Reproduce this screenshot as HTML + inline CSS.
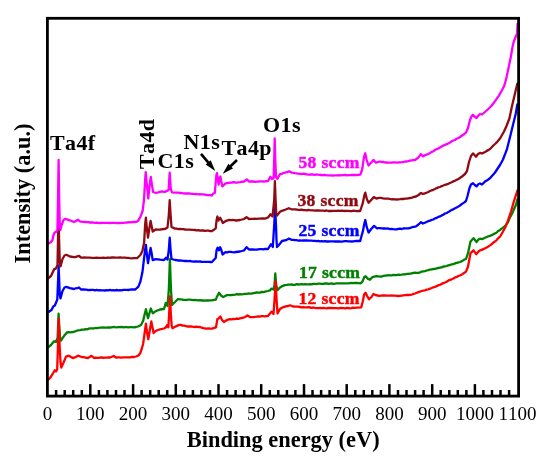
<!DOCTYPE html>
<html><head><meta charset="utf-8"><style>
html,body{margin:0;padding:0;background:#fff;width:550px;height:465px;overflow:hidden}
svg{display:block}
text{font-family:"Liberation Serif","Times New Roman",serif;font-kerning:none}
.tl{font-size:19px}
.pk{font-size:22px;font-weight:bold;letter-spacing:0.4px}
.lg{font-size:17.6px;font-weight:bold;letter-spacing:0.3px;stroke-width:0.45px}
.ax{font-size:22.4px;font-weight:bold}
</style></head><body>
<svg width="550" height="465" viewBox="0 0 550 465">
<rect width="550" height="465" fill="#fff"/>
<polyline points="48.5,347.0 51.0,345.0 54.0,341.3 56.0,342.0 57.6,338.0 58.1,325.0 58.6,313.7 59.2,325.0 60.2,339.0 61.0,340.5 62.4,338.4 64.3,335.6 67.0,332.5 68.6,332.2 70.2,332.3 71.8,332.1 73.4,332.0 75.7,331.2 78.0,330.3 80.0,330.1 82.0,329.6 84.0,329.6 85.6,329.1 87.2,329.3 88.8,328.7 90.4,328.4 92.0,328.3 93.6,328.5 95.2,328.0 96.8,328.1 98.4,327.8 100.0,327.7 101.7,327.7 103.3,327.4 105.0,327.6 106.7,327.7 108.3,327.4 110.0,327.5 111.7,327.4 113.3,327.0 115.0,327.2 116.7,327.3 118.3,327.2 120.0,327.1 121.7,326.9 123.3,327.3 125.0,327.1 126.7,327.2 128.3,327.3 130.0,327.1 132.0,327.2 134.0,327.3 136.0,327.0 138.0,326.5 141.0,325.0 143.1,321.0 144.5,315.0 145.9,309.2 146.8,313.0 148.0,318.2 149.5,313.0 150.8,308.5 151.8,311.0 152.9,313.3 155.7,311.2 157.8,310.3 160.0,309.5 164.0,309.0 165.8,302.9 167.5,306.0 168.8,290.0 169.9,259.2 171.0,290.0 172.0,304.8 175.0,302.0 178.0,299.0 179.8,299.4 181.5,299.4 183.2,299.8 185.0,299.8 186.7,300.0 188.3,299.6 190.0,299.7 191.7,299.8 193.3,300.2 195.0,300.0 196.7,300.1 198.3,300.3 200.0,300.2 201.7,300.5 203.3,300.5 205.0,300.7 206.6,300.5 208.2,300.5 209.8,300.4 211.4,300.4 213.0,300.1 216.0,299.5 216.8,297.0 219.0,292.8 221.0,295.5 223.3,297.1 227.0,295.1 228.6,295.1 230.2,295.1 231.9,295.0 233.5,294.9 235.1,294.6 236.8,294.2 238.4,294.5 240.0,294.2 241.7,294.4 243.3,294.2 245.0,293.9 246.7,293.9 248.3,293.5 250.0,293.6 251.7,293.6 253.3,293.2 255.0,292.8 256.7,292.5 258.3,292.7 260.0,292.6 261.7,291.9 263.3,292.1 265.0,291.7 268.0,291.0 270.0,290.3 271.5,288.6 273.5,289.5 274.5,285.0 275.3,273.5 276.2,285.0 277.5,290.1 280.0,287.5 282.0,286.2 285.0,285.1 286.7,284.9 288.3,284.6 290.0,284.7 291.7,284.5 293.3,284.8 295.0,284.8 296.7,284.2 298.3,284.5 300.0,284.4 301.7,284.1 303.3,284.4 305.0,284.2 306.7,284.4 308.3,284.4 310.0,284.1 311.7,284.4 313.3,283.9 315.0,283.8 316.7,284.0 318.3,283.6 320.0,283.7 321.7,283.8 323.3,283.8 325.0,283.5 326.7,283.4 328.3,283.9 330.0,283.6 331.7,283.5 333.3,283.8 335.0,283.7 336.7,283.4 338.3,283.4 340.0,283.4 341.7,283.4 343.3,283.3 345.0,283.3 346.7,283.3 348.3,283.4 350.0,283.1 351.7,283.0 353.3,283.2 355.0,283.0 356.8,283.0 358.7,283.2 360.5,283.4 362.3,281.9 364.2,277.3 365.6,276.3 367.6,278.6 370.0,279.8 372.4,277.1 376.3,276.1 380.2,276.6 381.8,276.5 383.4,275.9 385.0,275.6 386.7,275.5 388.3,275.1 390.0,275.3 391.7,275.3 393.3,274.9 395.0,275.1 396.7,275.1 398.3,274.6 400.0,274.8 401.7,274.7 403.3,274.4 405.0,274.3 406.7,273.9 408.3,273.9 410.0,273.6 411.7,273.5 413.3,272.9 415.0,272.7 416.7,272.8 418.3,272.8 420.0,272.3 421.7,271.7 423.3,271.4 425.0,271.1 426.7,270.5 428.3,270.1 430.0,269.7 431.7,269.3 433.3,269.0 435.0,268.8 436.7,268.3 438.3,268.0 440.0,267.7 441.7,267.4 443.3,266.5 445.0,266.4 446.7,266.0 448.3,265.3 450.0,265.0 451.7,264.3 453.3,264.2 455.0,263.4 456.7,262.8 458.3,262.5 460.0,262.0 462.0,261.1 464.0,259.8 466.0,259.0 468.0,253.2 470.5,241.6 473.5,238.2 475.0,240.0 476.5,242.0 478.5,239.5 480.0,238.7 482.0,239.2 485.0,237.7 486.7,237.0 488.3,236.3 490.0,235.8 491.7,235.2 493.3,234.2 495.0,233.4 496.7,232.5 498.3,230.9 500.0,230.0 501.7,228.6 503.3,227.5 505.0,226.1 508.0,222.2 510.0,217.4 513.0,211.6 516.0,204.8 517.5,199.0" fill="none" stroke="#008000" stroke-width="2.3" stroke-linejoin="round" stroke-linecap="round"/>
<polyline points="48.5,379.5 50.0,378.0 52.0,375.0 53.5,372.5 54.8,370.3 56.0,371.5 57.2,369.4 58.0,345.0 58.7,318.7 59.6,345.0 60.5,362.0 61.3,367.6 63.4,363.0 66.0,356.6 68.8,355.7 71.1,357.1 73.4,358.1 75.7,356.9 78.0,355.7 81.6,357.0 83.2,357.1 84.8,357.3 86.4,357.8 88.0,358.0 91.5,355.8 94.0,357.8 95.6,357.6 97.2,357.9 98.8,357.9 100.4,357.5 102.0,357.5 103.6,357.8 105.2,357.7 106.8,357.7 108.4,357.4 110.0,357.5 113.7,356.0 116.0,357.5 117.8,357.3 119.5,357.3 121.2,357.6 123.0,357.3 124.8,357.3 126.5,357.3 128.2,357.3 130.0,357.3 132.0,357.0 134.0,357.0 136.0,356.5 138.5,355.5 140.3,353.0 141.7,349.0 143.1,344.0 144.5,334.0 145.9,323.7 147.0,332.0 148.3,339.2 149.8,330.0 151.3,321.5 152.4,327.0 153.6,333.0 155.7,331.0 157.8,330.0 160.0,329.4 164.0,328.5 165.7,327.6 167.0,325.3 168.3,327.3 169.1,315.0 170.0,296.4 170.9,315.0 171.7,326.0 172.6,328.2 175.4,326.6 179.2,324.9 180.8,324.9 182.5,325.6 184.1,325.6 186.1,326.1 188.0,326.5 190.0,326.5 191.7,326.5 193.3,326.9 195.0,327.0 196.7,326.7 198.3,327.1 200.0,327.0 201.7,327.7 203.3,328.1 205.0,328.5 206.8,328.6 208.5,328.5 210.2,328.6 212.0,328.7 216.0,327.3 217.4,319.0 218.5,318.5 220.4,316.4 222.0,320.0 223.9,322.0 225.9,320.6 228.0,319.6 229.7,319.2 231.4,319.3 233.1,319.0 234.9,319.1 236.6,318.5 238.3,318.8 240.0,318.4 241.7,318.0 243.3,317.7 245.0,317.0 247.5,315.5 250.0,317.0 251.7,317.2 253.3,317.1 255.0,316.8 256.6,316.7 258.2,316.3 259.9,316.6 261.5,316.2 263.1,316.2 264.8,316.3 266.4,316.1 268.0,316.0 271.5,311.6 273.5,314.0 274.5,300.0 275.6,281.0 276.6,300.0 277.5,313.5 280.0,309.0 282.0,307.7 285.0,306.6 286.7,306.1 288.3,306.0 290.0,305.3 293.0,306.5 294.8,306.7 296.5,306.7 298.2,306.7 300.0,307.0 301.7,307.3 303.3,307.2 305.0,307.4 306.7,307.3 308.3,307.2 310.0,307.5 311.7,307.8 313.3,307.5 315.0,307.9 316.7,308.1 318.3,308.1 320.0,308.0 321.7,308.2 323.3,307.8 325.0,308.1 326.7,308.3 328.3,307.8 330.0,308.0 331.7,308.0 333.3,308.2 335.0,308.1 336.7,308.2 338.3,308.4 340.0,308.0 341.7,308.0 343.3,308.1 345.0,308.3 346.6,308.0 348.2,307.9 349.9,308.3 351.5,308.2 353.1,307.7 354.8,307.9 356.4,307.7 358.0,307.7 361.2,307.4 362.7,301.8 364.2,294.3 365.6,292.8 367.1,296.0 369.0,299.2 371.5,297.0 373.4,294.0 375.3,295.0 379.2,295.8 381.1,295.6 383.1,295.5 385.0,295.5 386.7,295.6 388.3,295.6 390.0,295.6 391.7,295.5 393.3,295.6 395.0,295.6 396.7,295.8 398.3,296.0 400.0,295.9 401.7,295.6 403.4,295.3 405.1,295.1 406.9,295.0 408.6,295.0 410.3,294.9 412.0,294.5 413.6,293.9 415.2,293.5 416.8,292.8 418.4,292.1 420.0,291.6 421.7,291.0 423.3,290.6 425.0,290.3 426.7,289.6 428.3,289.3 430.0,288.7 431.7,288.0 433.3,287.3 435.0,286.8 436.7,286.2 438.3,285.2 440.0,284.8 441.7,283.9 443.3,283.1 445.0,282.5 446.7,281.7 448.3,280.6 450.0,279.8 451.7,279.3 453.3,278.5 455.0,277.5 456.7,276.9 458.3,276.0 460.0,275.5 462.0,274.4 464.0,273.0 466.0,271.6 468.0,266.8 470.5,253.2 473.5,250.3 476.2,254.2 478.5,251.5 480.0,250.3 481.7,249.9 483.3,249.1 485.0,248.3 486.7,247.4 488.3,246.5 490.0,245.4 491.7,244.2 493.3,242.6 495.0,241.6 496.7,240.0 498.3,238.1 500.0,236.7 505.0,228.0 508.0,220.3 511.0,211.6 514.0,201.0 517.5,190.3" fill="none" stroke="#ff0000" stroke-width="2.3" stroke-linejoin="round" stroke-linecap="round"/>
<polyline points="48.5,312.0 51.5,310.0 53.3,306.4 54.8,305.5 56.0,302.7 57.3,299.5 58.1,280.0 58.6,265.7 59.1,278.0 59.8,295.0 60.5,298.4 62.5,291.0 64.5,287.5 66.3,286.8 70.0,288.2 74.0,289.0 75.7,288.3 77.3,288.2 79.0,287.5 81.0,289.5 82.8,289.3 84.6,289.5 86.4,289.6 88.2,290.1 90.0,290.0 91.7,289.9 93.3,289.8 95.0,290.3 96.7,289.9 98.3,290.4 100.0,290.2 101.7,290.3 103.3,290.4 105.0,290.5 106.7,290.2 108.3,290.4 110.0,289.9 111.7,290.3 113.3,290.2 115.0,290.3 116.7,290.0 118.3,290.3 120.0,290.2 121.7,290.4 123.3,289.8 125.0,289.9 126.7,289.9 128.3,290.0 130.0,289.7 131.8,289.5 133.5,289.4 135.3,289.5 138.4,286.6 140.4,281.5 142.4,272.3 144.1,258.0 145.1,250.0 145.9,244.9 146.8,254.0 148.0,263.2 149.4,255.0 150.6,247.9 151.6,253.0 152.7,260.1 155.7,259.1 157.8,259.3 160.0,259.7 164.0,260.0 166.0,257.7 167.5,259.5 168.8,250.0 169.7,237.6 170.6,250.0 171.5,259.0 175.0,260.0 176.7,260.2 178.3,260.5 180.0,260.4 181.7,260.6 183.3,260.8 185.0,261.0 186.7,261.0 188.3,261.1 190.0,261.0 191.7,261.3 193.3,261.7 195.0,261.5 196.7,261.5 198.4,261.7 200.1,261.5 201.8,261.8 203.5,261.9 205.2,261.9 206.9,261.9 208.6,261.9 210.3,262.0 212.0,262.0 213.8,260.0 215.7,258.0 216.6,250.0 217.6,247.6 218.9,250.3 219.6,248.0 220.2,247.3 221.3,250.0 222.6,254.5 225.4,252.2 227.2,252.4 228.9,251.9 230.7,251.9 232.5,252.2 234.2,252.3 236.0,252.0 240.0,251.5 244.0,250.5 246.5,247.1 249.0,249.5 251.0,249.5 253.0,249.5 255.0,249.6 256.6,249.6 258.2,249.3 259.9,249.2 261.5,249.1 263.1,249.3 264.8,249.0 266.4,248.9 268.0,249.0 271.0,244.2 272.8,247.0 274.2,225.0 275.1,207.7 276.0,225.0 276.5,240.0 277.0,247.1 278.7,245.2 280.3,243.3 282.0,241.0 286.0,240.2 289.0,238.6 291.5,239.8 293.2,239.8 294.9,240.2 296.6,240.2 298.3,240.6 300.0,240.5 301.7,240.6 303.3,240.5 305.0,240.5 306.7,240.4 308.3,240.7 310.0,240.7 311.7,240.7 313.3,240.8 315.0,240.9 316.7,241.2 318.3,240.9 320.0,241.4 321.7,241.1 323.3,241.3 325.0,241.2 326.7,241.5 328.3,241.5 330.0,241.4 331.7,241.4 333.3,241.4 335.0,241.5 336.7,241.5 338.3,241.3 340.0,241.5 341.7,241.6 343.3,241.3 345.0,241.1 346.7,241.1 348.3,241.4 350.0,241.3 351.7,241.5 353.3,241.4 355.0,241.2 356.7,241.0 358.5,240.9 360.2,241.0 361.5,236.0 362.8,231.6 364.3,223.8 365.3,220.0 366.9,227.7 368.6,232.5 371.2,229.0 374.1,225.9 377.0,228.3 378.6,228.2 380.2,228.1 381.8,228.4 383.4,228.5 385.0,228.3 386.7,228.7 388.3,228.5 390.0,229.1 391.7,228.9 393.3,229.2 395.0,229.4 396.7,229.4 398.3,228.9 400.0,228.7 401.7,229.0 403.3,228.5 405.0,228.4 406.7,228.4 408.3,228.3 410.0,228.0 412.0,227.2 414.0,226.8 416.0,226.4 418.5,224.5 421.0,222.2 423.0,223.5 424.8,222.7 426.5,222.0 428.2,221.2 430.0,220.6 431.7,219.9 433.3,219.5 435.0,218.4 436.7,217.8 438.3,216.9 440.0,216.4 441.7,215.4 443.3,214.7 445.0,213.5 446.7,213.0 448.3,212.1 450.0,211.0 451.7,209.9 453.3,209.4 455.0,208.2 456.7,207.5 458.3,206.6 460.0,205.5 462.0,203.9 464.0,202.6 466.0,201.0 467.5,196.0 469.5,188.0 471.0,184.5 473.0,183.2 474.8,185.0 476.5,186.4 478.5,184.0 480.0,183.5 482.0,184.5 485.0,181.6 486.7,180.6 488.3,179.5 490.0,178.2 491.7,176.2 493.3,174.5 495.0,172.5 500.0,165.0 503.0,159.5 506.8,149.7 510.1,136.8 513.2,124.0 515.8,113.5 517.3,104.5" fill="none" stroke="#0000ff" stroke-width="2.3" stroke-linejoin="round" stroke-linecap="round"/>
<polyline points="48.5,278.0 51.0,276.0 54.0,269.4 56.0,268.4 57.5,265.0 58.1,235.0 58.6,216.2 59.1,240.0 59.8,262.0 60.5,266.4 62.5,259.0 64.5,255.5 66.3,254.8 70.0,256.5 74.0,257.2 75.7,257.0 77.3,256.4 79.0,255.8 81.0,257.5 82.8,257.6 84.6,257.4 86.4,257.6 88.2,257.6 90.0,257.7 91.7,257.8 93.3,257.8 95.0,257.8 96.7,257.6 98.3,257.9 100.0,257.8 101.7,257.8 103.3,257.6 105.0,257.9 106.7,257.8 108.3,257.5 110.0,257.9 111.7,257.4 113.3,257.5 115.0,257.7 116.7,257.6 118.3,257.6 120.0,257.5 121.7,257.7 123.3,257.7 125.0,257.7 126.7,257.8 128.3,257.8 130.0,258.2 131.8,258.3 133.7,258.2 135.5,258.1 137.3,258.0 140.4,255.0 142.4,250.9 144.1,242.8 145.1,225.0 145.9,217.7 146.8,228.0 148.0,237.7 149.4,228.0 150.6,221.0 151.6,226.0 152.7,231.5 155.7,229.5 157.8,229.6 160.0,229.5 161.7,229.3 163.3,229.0 165.0,229.0 167.5,227.5 168.8,215.0 169.7,200.2 170.6,215.0 171.5,227.0 175.0,228.6 176.7,228.7 178.3,229.1 180.0,228.8 181.7,229.2 183.3,229.2 185.0,229.5 186.7,229.7 188.3,229.6 190.0,229.7 191.7,229.8 193.3,229.9 195.0,230.0 196.7,230.3 198.3,230.2 200.0,230.6 201.7,230.3 203.3,230.5 205.0,230.8 206.8,230.6 208.5,230.7 210.2,231.1 212.0,231.0 213.8,229.8 215.7,228.3 216.6,220.0 217.4,216.5 218.5,220.5 219.4,218.5 220.2,217.8 221.4,220.0 222.8,223.0 225.4,221.2 229.3,219.9 231.0,220.2 232.7,220.0 234.3,220.2 236.0,220.5 240.0,220.0 244.0,219.0 246.5,217.1 249.0,219.0 251.0,218.8 253.0,218.9 255.0,218.6 256.7,218.8 258.3,218.7 260.0,218.7 261.7,218.4 263.3,218.5 265.0,218.6 268.0,217.5 270.5,214.3 272.5,216.5 274.2,200.0 274.9,181.2 275.6,200.0 276.3,214.0 277.0,215.6 280.0,211.7 281.7,210.9 283.3,210.4 285.0,209.8 288.8,208.2 291.5,209.3 293.2,209.4 294.9,209.3 296.6,209.5 298.3,209.9 300.0,209.8 301.7,209.6 303.3,210.1 305.0,210.2 306.7,210.3 308.3,210.0 310.0,210.2 311.7,210.3 313.3,210.4 315.0,210.6 316.7,210.5 318.3,210.4 320.0,210.7 321.7,210.6 323.3,210.7 325.0,210.8 326.7,210.5 328.3,211.0 330.0,210.9 331.7,211.0 333.3,210.9 335.0,210.9 336.7,210.9 338.3,210.7 340.0,210.9 341.7,210.6 343.3,210.9 345.0,211.0 346.7,210.9 348.3,210.9 350.0,211.2 351.7,211.1 353.3,210.7 355.0,210.9 356.7,211.1 358.5,211.0 360.2,211.0 361.5,207.0 362.8,203.1 364.3,195.5 365.3,192.7 366.9,199.2 368.6,202.8 371.2,199.9 373.8,197.1 376.3,198.6 378.9,197.9 380.9,197.9 383.0,198.3 385.0,198.6 386.7,198.6 388.3,198.6 390.0,199.0 391.7,199.4 393.3,199.2 395.0,199.4 396.7,199.5 398.3,199.4 400.0,199.2 401.7,198.8 403.3,199.0 405.0,198.7 406.7,198.6 408.3,198.3 410.0,198.0 412.0,197.6 414.0,196.9 416.0,196.5 418.5,195.0 421.0,192.9 423.0,194.0 424.8,193.4 426.5,192.7 428.2,192.0 430.0,191.0 431.7,190.3 433.3,189.8 435.0,189.0 436.7,188.1 438.3,187.4 440.0,187.0 441.7,186.1 443.3,185.5 445.0,184.8 446.7,184.3 448.3,183.8 450.0,183.0 451.6,182.3 453.2,181.4 454.8,180.8 456.4,179.9 458.0,179.2 462.0,176.5 465.0,174.0 467.0,171.0 469.0,162.0 471.0,156.0 473.0,153.4 474.5,155.0 476.0,156.7 478.0,154.0 480.0,152.9 482.0,153.5 485.0,151.9 486.7,150.9 488.3,150.1 490.0,149.0 491.7,147.3 493.3,145.5 495.0,144.0 496.7,142.4 498.3,140.5 500.0,138.5 504.0,131.5 506.5,126.0 509.4,118.5 511.9,106.5 514.5,95.5 517.3,83.7" fill="none" stroke="#8f0a12" stroke-width="2.3" stroke-linejoin="round" stroke-linecap="round"/>
<polyline points="48.5,243.5 51.0,242.0 52.5,240.0 53.5,235.0 54.5,232.8 56.2,231.7 57.4,230.5 58.0,200.0 58.6,159.9 59.2,200.0 59.8,226.0 60.4,230.0 62.0,224.0 63.5,220.0 65.1,218.8 68.4,219.9 71.6,221.0 74.0,222.0 78.0,219.7 80.0,221.5 81.7,221.6 83.3,221.8 85.0,222.0 86.7,222.2 88.3,222.2 90.0,222.5 91.7,222.3 93.3,222.5 95.0,222.9 96.7,222.6 98.3,222.9 100.0,223.0 101.7,222.8 103.3,222.8 105.0,222.8 106.7,222.9 108.3,222.8 110.0,223.0 111.7,222.8 113.3,222.8 115.0,222.9 116.7,223.1 118.3,222.9 120.0,223.2 121.7,222.8 123.3,222.9 125.0,222.7 126.7,222.7 128.3,222.2 130.0,222.3 132.0,222.1 134.0,222.0 136.0,222.0 138.0,220.9 140.3,217.1 142.6,211.0 144.0,200.0 145.0,182.0 145.7,172.2 146.6,182.0 148.3,198.5 149.6,185.0 150.8,177.0 151.8,184.0 153.1,192.0 156.1,193.0 160.0,191.8 162.0,191.4 164.0,191.9 166.0,191.5 168.6,190.0 169.2,180.0 169.7,172.7 170.2,180.0 170.8,189.0 172.0,192.3 175.0,192.6 176.7,192.6 178.3,192.7 180.0,193.0 181.7,193.0 183.3,193.4 185.0,193.5 186.7,193.5 188.3,193.4 190.0,193.5 191.7,193.9 193.3,193.8 195.0,194.1 196.7,194.0 198.3,194.4 200.0,194.2 201.7,194.3 203.4,194.4 205.1,194.6 206.9,195.1 208.6,195.2 210.3,195.2 212.0,195.5 213.2,193.5 214.8,193.0 215.6,184.0 216.4,175.0 217.0,173.2 217.7,178.0 218.6,184.5 219.5,178.0 220.4,176.5 221.2,181.0 222.3,186.3 225.6,183.3 228.3,182.8 232.0,182.5 233.6,182.2 235.2,182.5 236.8,182.6 238.4,182.3 240.0,182.2 244.0,181.5 246.8,179.4 249.0,181.5 251.0,181.4 253.0,181.5 255.0,181.9 256.7,181.6 258.3,181.5 260.0,181.3 261.7,181.3 263.3,181.5 265.0,181.3 268.0,181.0 270.4,176.8 272.0,179.0 273.6,178.5 274.2,160.0 274.7,138.5 275.3,160.0 276.0,177.0 277.3,178.8 280.0,174.2 281.7,173.9 283.3,173.0 285.0,172.6 287.1,172.2 289.1,171.2 291.5,172.6 295.0,173.2 296.7,173.3 298.3,173.7 300.0,173.9 301.7,174.0 303.3,173.7 305.0,174.0 306.7,174.3 308.3,174.6 310.0,174.5 311.6,174.3 313.2,174.5 314.8,174.9 316.4,174.5 318.0,174.7 319.6,174.8 321.2,175.0 322.8,175.2 324.4,174.9 326.0,175.2 327.6,175.3 329.2,175.4 330.8,175.3 332.4,175.6 334.0,175.4 335.6,175.3 337.3,175.3 338.9,175.2 340.6,175.4 342.2,175.2 343.9,175.1 345.5,175.0 347.1,175.3 348.8,175.2 350.4,175.2 352.1,175.0 353.7,175.0 355.4,174.8 357.0,175.0 360.3,174.7 361.5,171.5 362.5,167.6 364.0,156.8 365.2,153.3 366.7,160.0 368.5,165.5 370.8,163.0 373.4,159.9 376.0,162.7 379.8,161.5 381.5,162.0 383.3,161.9 385.0,162.5 386.7,162.5 388.3,162.7 390.0,162.6 391.7,162.6 393.3,162.3 395.0,162.3 396.7,162.6 398.3,162.4 400.0,162.3 401.7,162.2 403.3,162.0 405.0,161.5 406.7,161.5 408.3,161.1 410.0,160.7 411.7,160.4 413.3,160.2 415.0,160.0 418.5,157.5 420.7,154.1 423.0,156.4 424.8,155.3 426.5,154.6 428.2,154.1 430.0,153.0 431.7,151.9 433.3,151.2 435.0,150.0 436.7,149.1 438.3,148.5 440.0,147.5 441.7,146.5 443.3,145.6 445.0,144.8 446.7,144.2 448.3,143.4 450.0,142.5 451.7,141.3 453.3,140.5 455.0,140.0 456.7,138.7 458.3,138.0 460.0,137.0 462.0,135.5 464.0,134.2 466.0,132.6 468.0,128.0 470.0,120.0 471.5,116.5 472.9,114.8 474.5,116.5 476.5,118.0 478.5,115.5 480.0,114.0 482.0,114.5 484.9,112.0 488.3,109.0 491.8,105.5 495.2,100.8 498.6,96.1 502.1,90.0 504.2,85.7 505.5,81.4 506.6,77.0 508.2,69.4 510.7,57.6 512.5,47.0 513.7,41.7 515.3,37.8 517.0,33.8 517.6,23.9" fill="none" stroke="#ff00ff" stroke-width="2.3" stroke-linejoin="round" stroke-linecap="round"/>
<rect x="47.4" y="18.3" width="471.2" height="377.8" fill="none" stroke="#000" stroke-width="2.8"/>
<line x1="56.1" y1="396" x2="56.1" y2="390" stroke="#000" stroke-width="2.5"/><line x1="64.7" y1="396" x2="64.7" y2="390" stroke="#000" stroke-width="2.5"/><line x1="73.2" y1="396" x2="73.2" y2="390" stroke="#000" stroke-width="2.5"/><line x1="81.8" y1="396" x2="81.8" y2="390" stroke="#000" stroke-width="2.5"/><line x1="90.3" y1="396" x2="90.3" y2="384.1" stroke="#000" stroke-width="2.5"/><line x1="98.9" y1="396" x2="98.9" y2="390" stroke="#000" stroke-width="2.5"/><line x1="107.4" y1="396" x2="107.4" y2="390" stroke="#000" stroke-width="2.5"/><line x1="116.0" y1="396" x2="116.0" y2="390" stroke="#000" stroke-width="2.5"/><line x1="124.5" y1="396" x2="124.5" y2="390" stroke="#000" stroke-width="2.5"/><line x1="133.1" y1="396" x2="133.1" y2="384.1" stroke="#000" stroke-width="2.5"/><line x1="141.6" y1="396" x2="141.6" y2="390" stroke="#000" stroke-width="2.5"/><line x1="150.2" y1="396" x2="150.2" y2="390" stroke="#000" stroke-width="2.5"/><line x1="158.7" y1="396" x2="158.7" y2="390" stroke="#000" stroke-width="2.5"/><line x1="167.2" y1="396" x2="167.2" y2="390" stroke="#000" stroke-width="2.5"/><line x1="175.8" y1="396" x2="175.8" y2="384.1" stroke="#000" stroke-width="2.5"/><line x1="184.3" y1="396" x2="184.3" y2="390" stroke="#000" stroke-width="2.5"/><line x1="192.9" y1="396" x2="192.9" y2="390" stroke="#000" stroke-width="2.5"/><line x1="201.4" y1="396" x2="201.4" y2="390" stroke="#000" stroke-width="2.5"/><line x1="210.0" y1="396" x2="210.0" y2="390" stroke="#000" stroke-width="2.5"/><line x1="218.5" y1="396" x2="218.5" y2="384.1" stroke="#000" stroke-width="2.5"/><line x1="227.1" y1="396" x2="227.1" y2="390" stroke="#000" stroke-width="2.5"/><line x1="235.6" y1="396" x2="235.6" y2="390" stroke="#000" stroke-width="2.5"/><line x1="244.2" y1="396" x2="244.2" y2="390" stroke="#000" stroke-width="2.5"/><line x1="252.7" y1="396" x2="252.7" y2="390" stroke="#000" stroke-width="2.5"/><line x1="261.2" y1="396" x2="261.2" y2="384.1" stroke="#000" stroke-width="2.5"/><line x1="269.8" y1="396" x2="269.8" y2="390" stroke="#000" stroke-width="2.5"/><line x1="278.3" y1="396" x2="278.3" y2="390" stroke="#000" stroke-width="2.5"/><line x1="286.9" y1="396" x2="286.9" y2="390" stroke="#000" stroke-width="2.5"/><line x1="295.4" y1="396" x2="295.4" y2="390" stroke="#000" stroke-width="2.5"/><line x1="304.0" y1="396" x2="304.0" y2="384.1" stroke="#000" stroke-width="2.5"/><line x1="312.5" y1="396" x2="312.5" y2="390" stroke="#000" stroke-width="2.5"/><line x1="321.1" y1="396" x2="321.1" y2="390" stroke="#000" stroke-width="2.5"/><line x1="329.6" y1="396" x2="329.6" y2="390" stroke="#000" stroke-width="2.5"/><line x1="338.2" y1="396" x2="338.2" y2="390" stroke="#000" stroke-width="2.5"/><line x1="346.7" y1="396" x2="346.7" y2="384.1" stroke="#000" stroke-width="2.5"/><line x1="355.3" y1="396" x2="355.3" y2="390" stroke="#000" stroke-width="2.5"/><line x1="363.8" y1="396" x2="363.8" y2="390" stroke="#000" stroke-width="2.5"/><line x1="372.3" y1="396" x2="372.3" y2="390" stroke="#000" stroke-width="2.5"/><line x1="380.9" y1="396" x2="380.9" y2="390" stroke="#000" stroke-width="2.5"/><line x1="389.4" y1="396" x2="389.4" y2="384.1" stroke="#000" stroke-width="2.5"/><line x1="398.0" y1="396" x2="398.0" y2="390" stroke="#000" stroke-width="2.5"/><line x1="406.5" y1="396" x2="406.5" y2="390" stroke="#000" stroke-width="2.5"/><line x1="415.1" y1="396" x2="415.1" y2="390" stroke="#000" stroke-width="2.5"/><line x1="423.6" y1="396" x2="423.6" y2="390" stroke="#000" stroke-width="2.5"/><line x1="432.2" y1="396" x2="432.2" y2="384.1" stroke="#000" stroke-width="2.5"/><line x1="440.7" y1="396" x2="440.7" y2="390" stroke="#000" stroke-width="2.5"/><line x1="449.3" y1="396" x2="449.3" y2="390" stroke="#000" stroke-width="2.5"/><line x1="457.8" y1="396" x2="457.8" y2="390" stroke="#000" stroke-width="2.5"/><line x1="466.4" y1="396" x2="466.4" y2="390" stroke="#000" stroke-width="2.5"/><line x1="474.9" y1="396" x2="474.9" y2="384.1" stroke="#000" stroke-width="2.5"/><line x1="483.4" y1="396" x2="483.4" y2="390" stroke="#000" stroke-width="2.5"/><line x1="492.0" y1="396" x2="492.0" y2="390" stroke="#000" stroke-width="2.5"/><line x1="500.5" y1="396" x2="500.5" y2="390" stroke="#000" stroke-width="2.5"/><line x1="509.1" y1="396" x2="509.1" y2="390" stroke="#000" stroke-width="2.5"/>
<text x="47.6" y="419.8" text-anchor="middle" class="tl">0</text><text x="90.3" y="419.8" text-anchor="middle" class="tl">100</text><text x="133.1" y="419.8" text-anchor="middle" class="tl">200</text><text x="175.8" y="419.8" text-anchor="middle" class="tl">300</text><text x="218.5" y="419.8" text-anchor="middle" class="tl">400</text><text x="261.2" y="419.8" text-anchor="middle" class="tl">500</text><text x="304.0" y="419.8" text-anchor="middle" class="tl">600</text><text x="346.7" y="419.8" text-anchor="middle" class="tl">700</text><text x="389.4" y="419.8" text-anchor="middle" class="tl">800</text><text x="432.2" y="419.8" text-anchor="middle" class="tl">900</text><text x="474.9" y="419.8" text-anchor="middle" class="tl">1000</text><text x="517.6" y="419.8" text-anchor="middle" class="tl">1100</text>
<text x="50" y="150.3" class="pk">Ta4f</text>
<text transform="translate(153.5,169) rotate(-90)" class="pk">Ta4d</text>
<text x="157.5" y="168" class="pk">C1s</text>
<text x="183.5" y="149.1" class="pk">N1s</text>
<text x="221.5" y="154.5" class="pk">Ta4p</text>
<text x="263" y="132.1" class="pk">O1s</text>
<line x1="201" y1="153.8" x2="209" y2="163.4" stroke="#000" stroke-width="2.6"/>
<polygon points="215.2,170.9 205.7,164.5 210.7,160.3" fill="#000"/>
<line x1="237" y1="160" x2="230" y2="166.8" stroke="#000" stroke-width="2.6"/>
<polygon points="222.8,173.8 228.4,163.7 233.0,168.5" fill="#000"/>
<text x="298.5" y="168.2" class="lg" fill="#ff00ff" stroke="#ff00ff">58 sccm</text>
<text x="297.5" y="205.8" class="lg" fill="#8f0a12" stroke="#8f0a12">38 sccm</text>
<text x="298.5" y="236.3" class="lg" fill="#0000ff" stroke="#0000ff">25 sccm</text>
<text x="299" y="277.6" class="lg" fill="#008000" stroke="#008000">17 sccm</text>
<text x="298.5" y="304.1" class="lg" fill="#ff0000" stroke="#ff0000">12 sccm</text>
<text x="283.2" y="446.5" text-anchor="middle" class="ax">Binding energy (eV)</text>
<text transform="translate(30,193.5) rotate(-90)" text-anchor="middle" class="ax">Intensity (a.u.)</text>
</svg>
</body></html>
